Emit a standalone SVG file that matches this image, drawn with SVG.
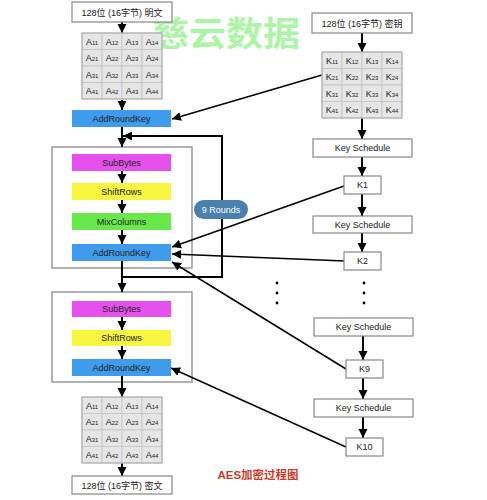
<svg xmlns="http://www.w3.org/2000/svg" width="487" height="500" viewBox="0 0 487 500">
<style>
text{font-family:"Liberation Sans",Arial,"Noto Sans CJK SC",sans-serif;fill:#222;}
.lbl{font-size:9px;text-anchor:middle;}
.box{fill:#fff;stroke:#888;stroke-width:1.2;}
.cell{fill:#e6e6e6;stroke:#c4c4c4;stroke-width:0.8;}
.mx{fill:none;stroke:#aaa;stroke-width:1;}
.ct{font-size:9px;text-anchor:middle;}
.sub{font-size:6px;}
.blue{fill:#3f9cec;}
.mag{fill:#e651ee;}
.yel{fill:#f7f53e;}
.grn{fill:#69e84b;}
.rnd{fill:none;stroke:#999;stroke-width:1.5;}
.arr{fill:none;stroke:#000;stroke-width:2;marker-end:url(#ah);}
.thin{fill:none;stroke:#000;stroke-width:1.5;marker-end:url(#ah);}
.dot{fill:#000;}
</style>
<defs>
<marker id="ah" markerUnits="userSpaceOnUse" markerWidth="10" markerHeight="10" refX="9" refY="5" orient="auto">
<path d="M0,0.5 L9,5 L0,9.5 z" fill="#000"/>
</marker>
</defs>
<rect width="487" height="500" fill="#fff"/>

<g id="watermark"><text x="152" y="46" textLength="148" lengthAdjust="spacingAndGlyphs" style="font-family:'Noto Sans CJK SC',sans-serif;font-size:34px;font-weight:bold;fill:#adf5a6">慈云数据</text></g>

<!-- round frames -->
<rect class="rnd" x="52" y="147" width="140" height="121"/>
<rect class="rnd" x="52" y="292" width="140" height="90"/>

<g id="connectors">
<line class="arr" x1="122" y1="22" x2="122" y2="33"/>
<line class="arr" x1="122" y1="100" x2="122" y2="110"/>
<line class="arr" x1="122" y1="127" x2="122" y2="147"/>
<line class="arr" x1="122" y1="171" x2="122" y2="183"/>
<line class="arr" x1="122" y1="200" x2="122" y2="213"/>
<line class="arr" x1="122" y1="230" x2="122" y2="244"/>
<line class="arr" x1="122" y1="261" x2="122" y2="292"/>
<path class="arr" d="M122,277 H222 V136 H123"/>
<line class="arr" x1="122" y1="317" x2="122" y2="330"/>
<line class="arr" x1="122" y1="346" x2="122" y2="359"/>
<line class="arr" x1="122" y1="376" x2="122" y2="397"/>
<line class="arr" x1="122" y1="463" x2="122" y2="476"/>
<line class="arr" x1="362" y1="33" x2="362" y2="52"/>
<line class="arr" x1="362" y1="118" x2="362" y2="139"/>
<line class="arr" x1="362" y1="157" x2="362" y2="176"/>
<line class="arr" x1="362" y1="194" x2="362" y2="216"/>
<line class="arr" x1="362" y1="233" x2="362" y2="252"/>
<line class="arr" x1="363" y1="336" x2="363" y2="360"/>
<line class="arr" x1="363" y1="378" x2="363" y2="399"/>
<line class="arr" x1="363" y1="417" x2="363" y2="438"/>
<line class="thin" x1="322" y1="75" x2="172" y2="119"/>
<line class="thin" x1="344" y1="186" x2="172" y2="247"/>
<line class="thin" x1="345" y1="261" x2="172" y2="254"/>
<line class="thin" x1="346" y1="369" x2="172" y2="262"/>
<line class="thin" x1="346" y1="447" x2="171" y2="368"/>
</g>

<g id="plain">
<rect class="box" x="72" y="2" width="100" height="20"/>
<text class="lbl" x="122" y="15.5">128位 (16字节) 明文</text>
</g>

<g id="stateIn">
<g transform="translate(82,33)">
<rect class="cell" x="0" y="0" width="20" height="16.5"/><rect class="cell" x="20" y="0" width="20" height="16.5"/><rect class="cell" x="40" y="0" width="20" height="16.5"/><rect class="cell" x="60" y="0" width="20" height="16.5"/>
<rect class="cell" x="0" y="16.5" width="20" height="16.5"/><rect class="cell" x="20" y="16.5" width="20" height="16.5"/><rect class="cell" x="40" y="16.5" width="20" height="16.5"/><rect class="cell" x="60" y="16.5" width="20" height="16.5"/>
<rect class="cell" x="0" y="33" width="20" height="16.5"/><rect class="cell" x="20" y="33" width="20" height="16.5"/><rect class="cell" x="40" y="33" width="20" height="16.5"/><rect class="cell" x="60" y="33" width="20" height="16.5"/>
<rect class="cell" x="0" y="49.5" width="20" height="16.5"/><rect class="cell" x="20" y="49.5" width="20" height="16.5"/><rect class="cell" x="40" y="49.5" width="20" height="16.5"/><rect class="cell" x="60" y="49.5" width="20" height="16.5"/>
<rect class="mx" x="0" y="0" width="80" height="66"/>
<text class="ct" x="10" y="11.5">A<tspan class="sub">11</tspan></text><text class="ct" x="30" y="11.5">A<tspan class="sub">12</tspan></text><text class="ct" x="50" y="11.5">A<tspan class="sub">13</tspan></text><text class="ct" x="70" y="11.5">A<tspan class="sub">14</tspan></text>
<text class="ct" x="10" y="28">A<tspan class="sub">21</tspan></text><text class="ct" x="30" y="28">A<tspan class="sub">22</tspan></text><text class="ct" x="50" y="28">A<tspan class="sub">23</tspan></text><text class="ct" x="70" y="28">A<tspan class="sub">24</tspan></text>
<text class="ct" x="10" y="44.5">A<tspan class="sub">31</tspan></text><text class="ct" x="30" y="44.5">A<tspan class="sub">32</tspan></text><text class="ct" x="50" y="44.5">A<tspan class="sub">33</tspan></text><text class="ct" x="70" y="44.5">A<tspan class="sub">34</tspan></text>
<text class="ct" x="10" y="61">A<tspan class="sub">41</tspan></text><text class="ct" x="30" y="61">A<tspan class="sub">42</tspan></text><text class="ct" x="50" y="61">A<tspan class="sub">43</tspan></text><text class="ct" x="70" y="61">A<tspan class="sub">44</tspan></text>
</g>
</g>

<g id="key">
<rect class="box" x="312" y="13" width="100" height="20"/>
<text class="lbl" x="362" y="26.5">128位 (16字节) 密钥</text>
</g>

<g id="keyMatrix">
<g transform="translate(322,52)">
<rect class="cell" x="0" y="0" width="20" height="16.5"/><rect class="cell" x="20" y="0" width="20" height="16.5"/><rect class="cell" x="40" y="0" width="20" height="16.5"/><rect class="cell" x="60" y="0" width="20" height="16.5"/>
<rect class="cell" x="0" y="16.5" width="20" height="16.5"/><rect class="cell" x="20" y="16.5" width="20" height="16.5"/><rect class="cell" x="40" y="16.5" width="20" height="16.5"/><rect class="cell" x="60" y="16.5" width="20" height="16.5"/>
<rect class="cell" x="0" y="33" width="20" height="16.5"/><rect class="cell" x="20" y="33" width="20" height="16.5"/><rect class="cell" x="40" y="33" width="20" height="16.5"/><rect class="cell" x="60" y="33" width="20" height="16.5"/>
<rect class="cell" x="0" y="49.5" width="20" height="16.5"/><rect class="cell" x="20" y="49.5" width="20" height="16.5"/><rect class="cell" x="40" y="49.5" width="20" height="16.5"/><rect class="cell" x="60" y="49.5" width="20" height="16.5"/>
<rect class="mx" x="0" y="0" width="80" height="66"/>
<text class="ct" x="10" y="11.5">K<tspan class="sub">11</tspan></text><text class="ct" x="30" y="11.5">K<tspan class="sub">12</tspan></text><text class="ct" x="50" y="11.5">K<tspan class="sub">13</tspan></text><text class="ct" x="70" y="11.5">K<tspan class="sub">14</tspan></text>
<text class="ct" x="10" y="28">K<tspan class="sub">21</tspan></text><text class="ct" x="30" y="28">K<tspan class="sub">22</tspan></text><text class="ct" x="50" y="28">K<tspan class="sub">23</tspan></text><text class="ct" x="70" y="28">K<tspan class="sub">24</tspan></text>
<text class="ct" x="10" y="44.5">K<tspan class="sub">31</tspan></text><text class="ct" x="30" y="44.5">K<tspan class="sub">32</tspan></text><text class="ct" x="50" y="44.5">K<tspan class="sub">33</tspan></text><text class="ct" x="70" y="44.5">K<tspan class="sub">34</tspan></text>
<text class="ct" x="10" y="61">K<tspan class="sub">41</tspan></text><text class="ct" x="30" y="61">K<tspan class="sub">42</tspan></text><text class="ct" x="50" y="61">K<tspan class="sub">43</tspan></text><text class="ct" x="70" y="61">K<tspan class="sub">44</tspan></text>
</g>
</g>

<g id="ark0"><rect class="blue" x="72" y="110" width="99" height="17"/><text class="lbl" x="121.5" y="121.8">AddRoundKey</text></g>
<g id="sub1"><rect class="mag" x="72" y="154" width="99" height="17"/><text class="lbl" x="121.5" y="165.8">SubBytes</text></g>
<g id="shift1"><rect class="yel" x="72" y="183" width="99" height="17"/><text class="lbl" x="121.5" y="194.8">ShiftRows</text></g>
<g id="mix1"><rect class="grn" x="72" y="213" width="99" height="17"/><text class="lbl" x="121.5" y="224.8">MixColumns</text></g>
<g id="ark1"><rect class="blue" x="72" y="244" width="99" height="17"/><text class="lbl" x="121.5" y="255.8">AddRoundKey</text></g>
<g id="rounds"><rect x="194" y="200" width="54" height="19" rx="9.5" fill="#4a80ae"/><text class="lbl" x="221" y="212.5" style="fill:#fff">9 Rounds</text></g>
<g id="sub2"><rect class="mag" x="72" y="301" width="99" height="16"/><text class="lbl" x="121.5" y="312.3">SubBytes</text></g>
<g id="shift2"><rect class="yel" x="72" y="330" width="99" height="16"/><text class="lbl" x="121.5" y="341.3">ShiftRows</text></g>
<g id="ark2"><rect class="blue" x="72" y="359" width="99" height="17"/><text class="lbl" x="121.5" y="370.8">AddRoundKey</text></g>

<g id="stateOut">
<g transform="translate(82,397)">
<rect class="cell" x="0" y="0" width="20" height="16.5"/><rect class="cell" x="20" y="0" width="20" height="16.5"/><rect class="cell" x="40" y="0" width="20" height="16.5"/><rect class="cell" x="60" y="0" width="20" height="16.5"/>
<rect class="cell" x="0" y="16.5" width="20" height="16.5"/><rect class="cell" x="20" y="16.5" width="20" height="16.5"/><rect class="cell" x="40" y="16.5" width="20" height="16.5"/><rect class="cell" x="60" y="16.5" width="20" height="16.5"/>
<rect class="cell" x="0" y="33" width="20" height="16.5"/><rect class="cell" x="20" y="33" width="20" height="16.5"/><rect class="cell" x="40" y="33" width="20" height="16.5"/><rect class="cell" x="60" y="33" width="20" height="16.5"/>
<rect class="cell" x="0" y="49.5" width="20" height="16.5"/><rect class="cell" x="20" y="49.5" width="20" height="16.5"/><rect class="cell" x="40" y="49.5" width="20" height="16.5"/><rect class="cell" x="60" y="49.5" width="20" height="16.5"/>
<rect class="mx" x="0" y="0" width="80" height="66"/>
<text class="ct" x="10" y="11.5">A<tspan class="sub">11</tspan></text><text class="ct" x="30" y="11.5">A<tspan class="sub">12</tspan></text><text class="ct" x="50" y="11.5">A<tspan class="sub">13</tspan></text><text class="ct" x="70" y="11.5">A<tspan class="sub">14</tspan></text>
<text class="ct" x="10" y="28">A<tspan class="sub">21</tspan></text><text class="ct" x="30" y="28">A<tspan class="sub">22</tspan></text><text class="ct" x="50" y="28">A<tspan class="sub">23</tspan></text><text class="ct" x="70" y="28">A<tspan class="sub">24</tspan></text>
<text class="ct" x="10" y="44.5">A<tspan class="sub">31</tspan></text><text class="ct" x="30" y="44.5">A<tspan class="sub">32</tspan></text><text class="ct" x="50" y="44.5">A<tspan class="sub">33</tspan></text><text class="ct" x="70" y="44.5">A<tspan class="sub">34</tspan></text>
<text class="ct" x="10" y="61">A<tspan class="sub">41</tspan></text><text class="ct" x="30" y="61">A<tspan class="sub">42</tspan></text><text class="ct" x="50" y="61">A<tspan class="sub">43</tspan></text><text class="ct" x="70" y="61">A<tspan class="sub">44</tspan></text>
</g>
</g>

<g id="cipher">
<rect class="box" x="72" y="476" width="100" height="18"/>
<text class="lbl" x="122" y="488.5">128位 (16字节) 密文</text>
</g>

<g id="ks1"><rect class="box" x="313" y="139" width="99" height="18"/><text class="lbl" x="362.5" y="151.3">Key Schedule</text></g>
<g id="k1"><rect class="box" x="344" y="176" width="37" height="18"/><text class="lbl" x="362.5" y="188.3">K1</text></g>
<g id="ks2"><rect class="box" x="313" y="216" width="99" height="17"/><text class="lbl" x="362.5" y="227.8">Key Schedule</text></g>
<g id="k2"><rect class="box" x="344" y="252" width="37" height="18"/><text class="lbl" x="362.5" y="264.3">K2</text></g>
<g id="ks3"><rect class="box" x="314" y="318" width="99" height="18"/><text class="lbl" x="363.5" y="330.3">Key Schedule</text></g>
<g id="k9"><rect class="box" x="346" y="360" width="37" height="18"/><text class="lbl" x="364.5" y="372.3">K9</text></g>
<g id="ks4"><rect class="box" x="314" y="399" width="99" height="18"/><text class="lbl" x="363.5" y="411.3">Key Schedule</text></g>
<g id="k10"><rect class="box" x="346" y="438" width="37" height="18"/><text class="lbl" x="364.5" y="450.3">K10</text></g>

<g id="ellipsis">
<circle class="dot" cx="277" cy="283" r="1.4"/><circle class="dot" cx="277" cy="293" r="1.4"/><circle class="dot" cx="277" cy="303" r="1.4"/>
<circle class="dot" cx="364" cy="283" r="1.4"/><circle class="dot" cx="364" cy="293" r="1.4"/><circle class="dot" cx="364" cy="303" r="1.4"/>
</g>

<g id="title"><text x="258" y="479" style="font-size:11.5px;font-weight:bold;fill:#cc3b2c;text-anchor:middle">AES加密过程图</text></g>
</svg>
